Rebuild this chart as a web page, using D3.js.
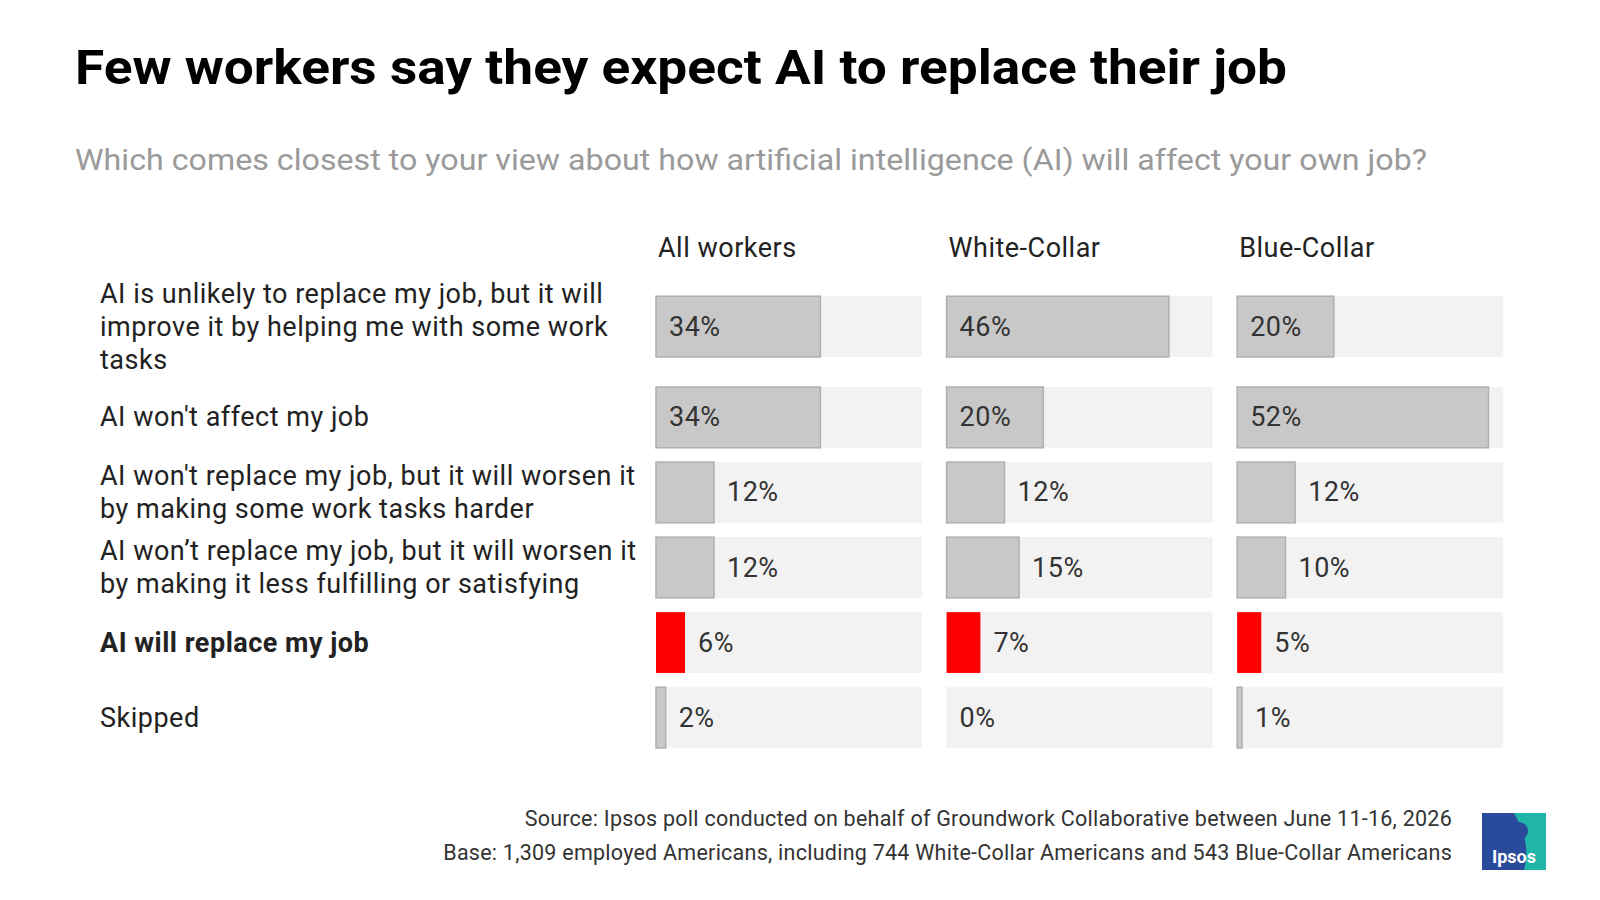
<!DOCTYPE html>
<html><head><meta charset="utf-8">
<script src="https://cdn.jsdelivr.net/npm/d3@7"></script>
<style>body{margin:0;background:#fff}svg{display:block;font-family:Roboto,"Open Sans",sans-serif}</style>
</head><body><svg id="c" width="1600" height="900"></svg>
<script>
const categories = [
  ["AI is unlikely to replace my job, but it will","improve it by helping me with some work","tasks"],
  ["AI won't affect my job"],
  ["AI won't replace my job, but it will worsen it","by making some work tasks harder"],
  ["AI won\u2019t replace my job, but it will worsen it","by making it less fulfilling or satisfying"],
  ["AI will replace my job"],
  ["Skipped"]
];
const groups = ["All workers","White-Collar","Blue-Collar"];
const allWorkers = [34,34,12,12,6,2];
const whiteCollar = [46,20,12,15,7,0];
const blueCollar = [20,52,12,10,5,1];
const seriesValues = [allWorkers, whiteCollar, blueCollar];
const highlightRow = 4;

const svg = d3.select("#c");
svg.append("text").attr("x",75).attr("y",84).attr("font-size",49).attr("font-weight",700).attr("fill","#000")
  .attr("textLength",1212).attr("lengthAdjust","spacingAndGlyphs")
  .text("Few workers say they expect AI to replace their job");
svg.append("text").attr("x",75).attr("y",170).attr("font-size",30).attr("fill","#9a9a9a")
  .attr("textLength",1352).attr("lengthAdjust","spacingAndGlyphs")
  .text("Which comes closest to your view about how artificial intelligence (AI) will affect your own job?");

const yb = d3.scaleBand().domain(d3.range(1,6)).range([387,748]).paddingInner(0.19);
const firstGap = 30;
const yTop = i => i===0 ? yb(1) - yb.bandwidth() - firstGap : yb(i);
const bh = yb.bandwidth();
const panelX = d3.scaleBand().domain(groups).range([656,1503]).paddingInner(0.085);
const x = d3.scaleLinear().domain([0,55]).range([0,panelX.bandwidth()]);

categories.forEach((lines,i)=>{
  const cy = yTop(i)+bh/2;
  const t = svg.append("text").attr("x",100).attr("font-size",27).attr("fill","#222").attr("letter-spacing",0.5)
    .attr("font-weight", i===highlightRow?700:400);
  lines.forEach((l,k)=>t.append("tspan").attr("x",100)
    .attr("y",cy+9+(k-(lines.length-1)/2)*33).text(l));
});

groups.forEach((g,gi)=>{
  const px = panelX(g);
  svg.append("text").attr("x",px+2).attr("y",257).attr("font-size",27).attr("fill","#222").attr("letter-spacing",0.5).text(g);
  seriesValues[gi].forEach((v,i)=>{
    svg.append("rect").attr("x",px).attr("y",yTop(i)).attr("width",panelX.bandwidth()).attr("height",bh).attr("fill","#f2f2f2");
    const w = x(v);
    if (w>0) svg.append("rect").attr("x",px).attr("y",yTop(i)).attr("width",w).attr("height",bh)
      .attr("fill", i===highlightRow?"#ff0000":"#c8c8c8")
      .attr("stroke", i===highlightRow?"none":"#b0b0b0").attr("stroke-width",1.5);
    const inside = v>=20;
    svg.append("text").attr("x", inside? px+13 : px+w+13).attr("y",yTop(i)+bh/2+9)
      .attr("font-size",27).attr("fill","#333").attr("letter-spacing",0.5).text(v+"%");
  });
});

svg.append("text").attr("x",1452).attr("y",826).attr("text-anchor","end").attr("font-size",21.5).attr("fill","#333").attr("letter-spacing",0.25)
  .text("Source: Ipsos poll conducted on behalf of Groundwork Collaborative between June 11-16, 2026");
svg.append("text").attr("x",1452).attr("y",860).attr("text-anchor","end").attr("font-size",21.5).attr("fill","#333").attr("letter-spacing",0.25)
  .text("Base: 1,309 employed Americans, including 744 White-Collar Americans and 543 Blue-Collar Americans");

const logo = svg.append("g").attr("transform","translate(1482,813)");
logo.append("rect").attr("width",64).attr("height",57).attr("fill","#2a4a9c");
logo.append("path").attr("d","M32 0 H64 V57 H42 C46 40 46 25 32 0 Z").attr("fill","#1fb5a8");
logo.append("circle").attr("cx",37).attr("cy",18).attr("r",9).attr("fill","#2a4a9c");
logo.append("text").attr("x",32).attr("y",50).attr("text-anchor","middle").attr("font-size",18).attr("font-weight",700).attr("fill","#fff").text("Ipsos");
</script></body></html>
